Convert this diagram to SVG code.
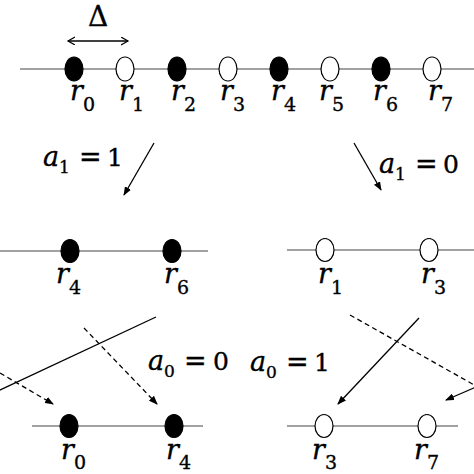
<svg xmlns="http://www.w3.org/2000/svg" width="474" height="474" viewBox="0 0 474 474">
<style>
.axis{stroke:#444;stroke-width:1.2;fill:none}
.bead{stroke:#000;stroke-width:1.2}
.on{fill:#000}
.off{fill:#fff}
.lab{font-family:"DejaVu Serif","Liberation Serif",serif;font-size:27px;fill:#000;stroke:#000;stroke-width:0.35}
.it{font-style:italic}
.sub{font-size:19px;font-style:normal}
.eq{font-family:"DejaVu Serif","Liberation Serif",serif;font-size:27px;fill:#000;stroke:#000;stroke-width:0.35}
.eqs{font-size:17px}
.num{font-size:25px}
.arr{stroke:#000;stroke-width:1.3;fill:none}
.dash{stroke-dasharray:5 3.5}
</style>
<defs>
<marker id="ah" markerUnits="userSpaceOnUse" markerWidth="9" markerHeight="7" refX="8" refY="3.5" orient="auto">
<path d="M0,0 L9,3.5 L0,7 z" fill="#000"/>
</marker>
<marker id="oh" markerUnits="userSpaceOnUse" markerWidth="9" markerHeight="9" refX="7" refY="4" orient="auto-start-reverse">
<path d="M0,0 L7,4 L0,8" fill="none" stroke="#000" stroke-width="1.2"/>
</marker>
</defs>

<g id="axes">
<line class="axis" x1="20" y1="69" x2="474" y2="69"/>
<line class="axis" x1="0" y1="251" x2="208" y2="251"/>
<line class="axis" x1="287" y1="250" x2="474" y2="250"/>
<line class="axis" x1="32" y1="426" x2="203" y2="426"/>
<line class="axis" x1="287" y1="426" x2="458" y2="426"/>
</g>

<g id="t-r0"><ellipse class="bead on" cx="74" cy="69" rx="9" ry="12"/><text class="lab" y="100"><tspan class="it" x="70">r</tspan><tspan class="sub" x="83" y="111">0</tspan></text></g>
<g id="t-r1"><ellipse class="bead off" cx="125" cy="69" rx="9" ry="12"/><text class="lab" y="100"><tspan class="it" x="119">r</tspan><tspan class="sub" x="132" y="111">1</tspan></text></g>
<g id="t-r2"><ellipse class="bead on" cx="177" cy="69" rx="9" ry="12"/><text class="lab" y="100"><tspan class="it" x="171">r</tspan><tspan class="sub" x="184" y="111">2</tspan></text></g>
<g id="t-r3"><ellipse class="bead off" cx="228" cy="69" rx="9" ry="12"/><text class="lab" y="100"><tspan class="it" x="220">r</tspan><tspan class="sub" x="233" y="111">3</tspan></text></g>
<g id="t-r4"><ellipse class="bead on" cx="279" cy="69" rx="9" ry="12"/><text class="lab" y="100"><tspan class="it" x="271">r</tspan><tspan class="sub" x="284" y="111">4</tspan></text></g>
<g id="t-r5"><ellipse class="bead off" cx="330" cy="69" rx="9" ry="12"/><text class="lab" y="100"><tspan class="it" x="319">r</tspan><tspan class="sub" x="332" y="111">5</tspan></text></g>
<g id="t-r6"><ellipse class="bead on" cx="381" cy="69" rx="9" ry="12"/><text class="lab" y="100"><tspan class="it" x="373">r</tspan><tspan class="sub" x="386" y="111">6</tspan></text></g>
<g id="t-r7"><ellipse class="bead off" cx="432" cy="69" rx="9" ry="12"/><text class="lab" y="100"><tspan class="it" x="428">r</tspan><tspan class="sub" x="441" y="111">7</tspan></text></g>

<g id="delta">
<text class="lab" x="98" y="26" text-anchor="middle" style="font-size:28px">Δ</text>
</g>

<g id="m-r4"><ellipse class="bead on" cx="70" cy="251" rx="9" ry="11.5"/><text class="lab" y="283"><tspan class="it" x="56">r</tspan><tspan class="sub" x="69" y="294">4</tspan></text></g>
<g id="m-r6"><ellipse class="bead on" cx="172" cy="251" rx="9" ry="11.5"/><text class="lab" y="283"><tspan class="it" x="164">r</tspan><tspan class="sub" x="177" y="294">6</tspan></text></g>
<g id="m-r1"><ellipse class="bead off" cx="325" cy="250" rx="9" ry="11.5"/><text class="lab" y="283"><tspan class="it" x="318">r</tspan><tspan class="sub" x="331" y="294">1</tspan></text></g>
<g id="m-r3"><ellipse class="bead off" cx="429" cy="250" rx="9" ry="11.5"/><text class="lab" y="283"><tspan class="it" x="421">r</tspan><tspan class="sub" x="434" y="294">3</tspan></text></g>

<g id="b-r0"><ellipse class="bead on" cx="69" cy="426" rx="9" ry="11.5"/><text class="lab" y="459"><tspan class="it" x="61">r</tspan><tspan class="sub" x="74" y="469">0</tspan></text></g>
<g id="b-r4"><ellipse class="bead on" cx="174" cy="426" rx="9" ry="11.5"/><text class="lab" y="459"><tspan class="it" x="166">r</tspan><tspan class="sub" x="179" y="469">4</tspan></text></g>
<g id="b-r3"><ellipse class="bead off" cx="324" cy="426" rx="9" ry="11.5"/><text class="lab" y="459"><tspan class="it" x="312">r</tspan><tspan class="sub" x="325" y="469">3</tspan></text></g>
<g id="b-r7"><ellipse class="bead off" cx="427" cy="426" rx="9" ry="11.5"/><text class="lab" y="459"><tspan class="it" x="414">r</tspan><tspan class="sub" x="427" y="469">7</tspan></text></g>

<g id="lbl-a1-1"><text class="eq" y="166"><tspan class="it" x="43">a</tspan><tspan class="eqs" x="59" y="173">1</tspan><tspan x="79" y="166">=</tspan><tspan class="num" x="107" y="166">1</tspan></text></g>
<g id="lbl-a1-0"><text class="eq" y="173"><tspan class="it" x="379">a</tspan><tspan class="eqs" x="395" y="180">1</tspan><tspan x="415" y="173">=</tspan><tspan class="num" x="443" y="173">0</tspan></text></g>
<g id="lbl-a0-0"><text class="eq" y="370"><tspan class="it" x="148">a</tspan><tspan class="eqs" x="164" y="377">0</tspan><tspan x="184" y="370">=</tspan><tspan class="num" x="213" y="370">0</tspan></text></g>
<g id="lbl-a0-1"><text class="eq" y="371"><tspan class="it" x="250">a</tspan><tspan class="eqs" x="266" y="378">0</tspan><tspan x="286" y="371">=</tspan><tspan class="num" x="314" y="371">1</tspan></text></g>

<g id="connectors">
<line class="arr" x1="68" y1="41" x2="128" y2="41" marker-start="url(#oh)" marker-end="url(#oh)" stroke-width="1.1"/>
<line class="arr" x1="154" y1="143" x2="124" y2="195" marker-end="url(#ah)"/>
<line class="arr" x1="354" y1="143" x2="381" y2="190" marker-end="url(#ah)"/>
<line class="arr" x1="156" y1="317" x2="-2" y2="391"/>
<line class="arr dash" x1="0" y1="373" x2="53" y2="404" marker-end="url(#ah)"/>
<line class="arr dash" x1="84" y1="328" x2="157" y2="404" marker-end="url(#ah)"/>
<line class="arr" x1="419" y1="318" x2="338" y2="404" marker-end="url(#ah)"/>
<line class="arr dash" x1="350" y1="315" x2="476" y2="386"/>
<line class="arr" x1="476" y1="387" x2="446" y2="400" marker-end="url(#ah)"/>
</g>
</svg>
